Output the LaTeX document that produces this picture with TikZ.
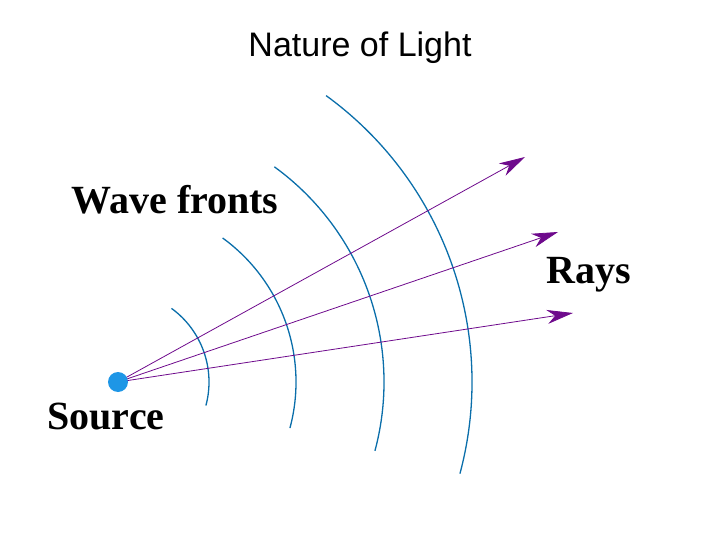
\documentclass[tikz,border=0pt]{standalone}
\usepackage{fontspec}
\setmainfont{Liberation Serif}
\newfontfamily\arialf{Liberation Sans}
\usetikzlibrary{arrows.meta}
\definecolor{wave}{RGB}{10,110,170}
\definecolor{ray}{RGB}{110,10,140}
\definecolor{src}{RGB}{30,150,230}
\tikzset{wavearc/.style={wave,line width=1.3pt},
 rayline/.style={ray,line width=0.8pt,-{Stealth[length=26pt,width=14pt,inset=8pt]}},
 lbl/.style={font=\bfseries\fontsize{40}{42}\selectfont,inner sep=0pt}}
\begin{document}
\begin{tikzpicture}[x=1pt,y=-1pt]
\useasboundingbox (0,0) rectangle (720,540);
\node[font=\arialf\fontsize{34}{38}\selectfont] (title) at (360,48) {Nature of Light};
\coordinate (s) at (118,382);
\foreach \r in {91,178,266,354}{
  \draw[wavearc] (s) ++(-54:\r) arc[start angle=-54,end angle=15,radius=\r];
}
\coordinate (r1) at (525,157);
\coordinate (r2) at (558,232);
\coordinate (r3) at (573,313);
\draw[rayline] (s) -- (r1);
\draw[rayline] (s) -- (r2);
\draw[rayline] (s) -- (r3);
\fill[src] (s) circle (10);
\node[lbl] (wf) at (175,200) {Wave fronts};
\node[lbl] (rays) at (589,275) {Rays};
\node[lbl] (source) at (106,416) {Source};
\end{tikzpicture}
\end{document}
